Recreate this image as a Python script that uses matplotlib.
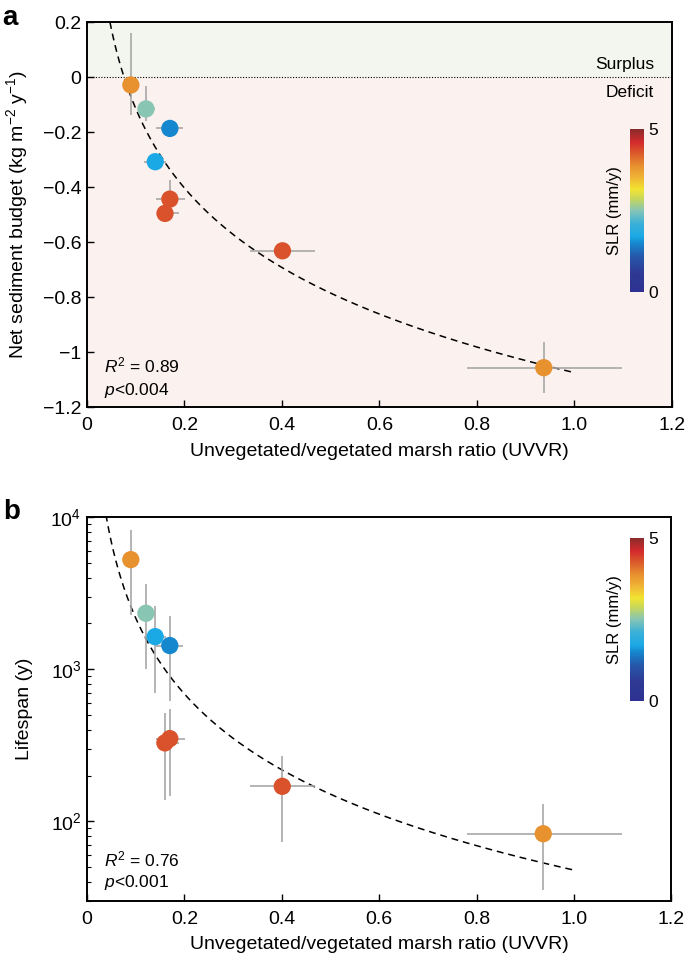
import numpy as np
import matplotlib
matplotlib.use("Agg")
import matplotlib.pyplot as plt
from matplotlib.colors import LinearSegmentedColormap, Normalize
from matplotlib.cm import ScalarMappable
from matplotlib.ticker import FixedLocator, LogLocator, NullFormatter

plt.rcParams['font.family'] = ['Liberation Sans', 'DejaVu Sans']
plt.rcParams['mathtext.fontset'] = 'custom'
plt.rcParams['mathtext.rm'] = 'Liberation Sans'
plt.rcParams['mathtext.it'] = 'Liberation Sans:italic'
plt.rcParams['mathtext.bf'] = 'Liberation Sans:bold'
plt.rcParams['axes.unicode_minus'] = True

# ---------------- data ----------------
uvvr = [0.090, 0.121, 0.140, 0.170, 0.160, 0.170, 0.401, 0.937]
uvvr_err_lo = [0.0, 0.016, 0.023, 0.028, 0.017, 0.028, 0.067, 0.157]
uvvr_err_hi = [0.0, 0.018, 0.023, 0.027, 0.028, 0.031, 0.067, 0.161]
slr = [3.85, 2.5, 1.7, 1.5, 4.3, 4.3, 4.3, 3.85]

budget = [-0.029, -0.116, -0.308, -0.187, -0.496, -0.444, -0.632, -1.057]
budget_err_lo = [0.109, 0.044, 0.0, 0.0, 0.0, 0.040, 0.0, 0.093]
budget_err_hi = [0.189, 0.083, 0.0, 0.0, 0.0, 0.069, 0.0, 0.092]

lifespan = [5245, 2330, 1636, 1430, 328, 350, 170, 83]
lifespan_top = [8260, 3630, 2590, 2250, 516, 550, 269, 131]
lifespan_bot = [2280, 1000, 698, 617, 138, 148, 73, 35.5]

# regression fits shown as dashed curves
budget_fit_a, budget_fit_b = -1.075, -0.417      # y = a + b ln(x)
life_fit_c, life_fit_k = 47.9, -1.656            # L = c x^k

x_ticks = [0, 0.2, 0.4, 0.6, 0.8, 1.0, 1.2]
x_ticklabels = ['0', '0.2', '0.4', '0.6', '0.8', '1.0', '1.2']
y_ticks_a = [0.2, 0, -0.2, -0.4, -0.6, -0.8, -1, -1.2]
y_ticklabels_a = ['0.2', '0', '\u22120.2', '\u22120.4', '\u22120.6', '\u22120.8', '\u22121', '\u22121.2']

# colormap for SLR
cmap_colors = [
    (0.00, '#2E3192'), (0.12, '#2E3A94'), (0.22, '#2659AB'), (0.30, '#1588D0'),
    (0.34, '#1BA9E5'), (0.42, '#3BB0D8'), (0.50, '#86C4B4'), (0.57, '#C5D65E'),
    (0.63, '#F2E431'), (0.71, '#EFB035'), (0.77, '#E8932F'), (0.86, '#D9542B'),
    (0.92, '#D42A2C'), (1.00, '#8A2B2B')]
cmap = LinearSegmentedColormap.from_list('slr', cmap_colors)
norm = Normalize(0, 5)

FS = 14
fig = plt.figure(figsize=(6.85, 9.57), dpi=100)
ax1 = fig.add_axes([0.127, 0.5747, 0.854, 0.4023])
ax2 = fig.add_axes([0.127, 0.0585, 0.853, 0.4013])

err_kw = dict(fmt='none', ecolor='#A8A8A8', elinewidth=1.2, capsize=0, zorder=2)
colors = [cmap(norm(v)) for v in slr]
MS = 155

# ---------- panel a ----------
ax1.axhspan(0, 0.2, color='#F2F6EE', zorder=0, lw=0)
ax1.axhspan(-1.2, 0, color='#FBF1EF', zorder=0, lw=0)
ax1.axhline(0, color='black', lw=0.8, ls=(0, (1, 1.5)), zorder=1)
xf = np.linspace(0.03, 1.0, 400)
ax1.plot(xf, budget_fit_a + budget_fit_b * np.log(xf), color='black', lw=1.1,
         dashes=(4.5, 3.2), zorder=1.5)
ax1.errorbar(uvvr, budget, xerr=[uvvr_err_lo, uvvr_err_hi],
             yerr=[budget_err_lo, budget_err_hi], **err_kw)
ax1.scatter(uvvr, budget, s=MS, c=colors, edgecolors='none', zorder=3)
ax1.set_xlim(0, 1.2)
ax1.set_ylim(-1.2, 0.2)
ax1.yaxis.set_major_locator(FixedLocator(y_ticks_a))
ax1.set_yticklabels(y_ticklabels_a)
ax1.text(1.163, 0.047, 'Surplus', ha='right', va='center', fontsize=12.5)
ax1.text(1.163, -0.058, 'Deficit', ha='right', va='center', fontsize=12.5)
ax1.text(0.029, 0.109, r'$R^2$ = 0.89', transform=ax1.transAxes, ha='left', va='center', fontsize=12.5)
ax1.text(0.029, 0.044, r'$p$<0.004', transform=ax1.transAxes, ha='left', va='center', fontsize=12.5)
ax1.set_ylabel(r'Net sediment budget (kg m$^{-2}$ y$^{-1}$)', fontsize=FS)
ax1.yaxis.set_label_coords(-0.097, 0.5)

# ---------- panel b ----------
xf2 = np.linspace(0.035, 1.0, 400)
ax2.plot(xf2, life_fit_c * xf2 ** life_fit_k, color='black', lw=1.1,
         dashes=(4.5, 3.2), zorder=1.5)
ly = np.array(lifespan)
ax2.errorbar(uvvr, lifespan, xerr=[uvvr_err_lo, uvvr_err_hi],
             yerr=[ly - np.array(lifespan_bot), np.array(lifespan_top) - ly], **err_kw)
ax2.scatter(uvvr, lifespan, s=MS, c=colors, edgecolors='none', zorder=3)
ax2.set_yscale('log')
ax2.set_xlim(0, 1.2)
ax2.set_ylim(30, 1e4)
ax2.yaxis.set_major_locator(LogLocator(base=10, numticks=10))
ax2.yaxis.set_minor_locator(LogLocator(base=10, subs=np.arange(2, 10), numticks=10))
ax2.yaxis.set_minor_formatter(NullFormatter())
ax2.text(0.029, 0.107, r'$R^2$ = 0.76', transform=ax2.transAxes, ha='left', va='center', fontsize=12.5)
ax2.text(0.029, 0.047, r'$p$<0.001', transform=ax2.transAxes, ha='left', va='center', fontsize=12.5)
ax2.set_ylabel('Lifespan (y)', fontsize=FS)
ax2.yaxis.set_label_coords(-0.092, 0.5)

for ax, ly_ in ((ax1, -0.094), (ax2, -0.091)):
    ax.set_xticks(x_ticks)
    ax.set_xticklabels(x_ticklabels)
    ax.tick_params(axis='both', which='major', direction='in', length=5, width=1,
                   labelsize=FS, top=False, right=False)
    ax.tick_params(axis='x', pad=7)
    ax.tick_params(axis='y', pad=4)
    ax.tick_params(axis='y', which='minor', direction='in', length=3, width=0.8, right=False)
    for sp in ax.spines.values():
        sp.set_linewidth(1.4)
    ax.set_xlabel('Unvegetated/vegetated marsh ratio (UVVR)', fontsize=FS)
    ax.xaxis.set_label_coords(0.5, ly_)

# colorbars
for bottom in (0.6949, 0.2678):
    cax = fig.add_axes([0.9197, bottom, 0.0204, 0.1703])
    cb = fig.colorbar(ScalarMappable(norm=norm, cmap=cmap), cax=cax)
    cb.outline.set_visible(False)
    cb.set_ticks([0, 5])
    cb.set_ticklabels(['0', '5'])
    cax.tick_params(length=0, labelsize=12.5, pad=3)
    cax.yaxis.set_label_position('left')
    cax.set_ylabel('SLR (mm/y)', fontsize=12, labelpad=6)

fig.text(0.004, 0.981, 'a', fontsize=20, fontweight='bold', ha='left', va='center')
fig.text(0.004, 0.465, 'b', fontsize=20, fontweight='bold', ha='left', va='center')

fig.savefig('out.png', dpi=100)
